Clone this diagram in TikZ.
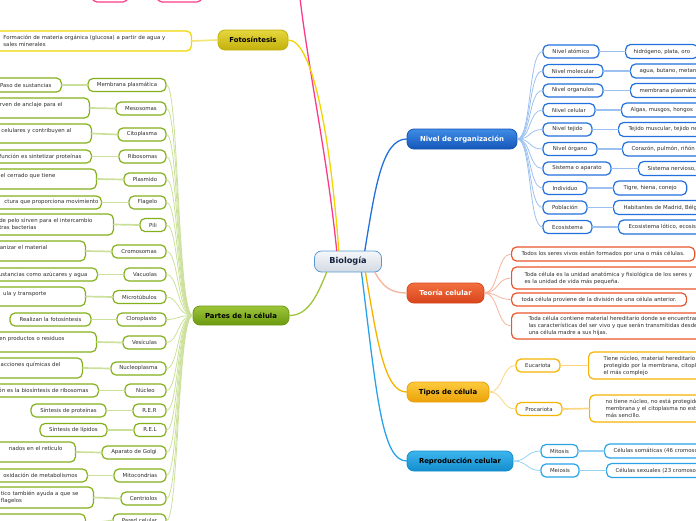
\documentclass[tikz,border=0pt]{standalone}
\usepackage{fontspec}
\setmainfont{DejaVu Sans}
\usepackage{tikz}
\definecolor{txtgray}{HTML}{2E2E2E}
\definecolor{bioTop}{HTML}{F5F7FA}
\definecolor{bioBot}{HTML}{D3DAE3}
\definecolor{bioLine}{HTML}{5B9BD5}
\definecolor{bioText}{HTML}{15233F}
\definecolor{bluTop}{HTML}{3F8CE6}
\definecolor{bluBot}{HTML}{1456B8}
\definecolor{bluBox}{HTML}{2170DD}
\definecolor{bluLine}{HTML}{9CC0F0}
\definecolor{grnTop}{HTML}{9DC53A}
\definecolor{grnBot}{HTML}{6B990F}
\definecolor{grnBox}{HTML}{84B01C}
\definecolor{grnLine}{HTML}{CBE09A}
\definecolor{redTop}{HTML}{F2703F}
\definecolor{redBot}{HTML}{D8441C}
\definecolor{redBox}{HTML}{E9552B}
\definecolor{redLine}{HTML}{F6B39C}
\definecolor{gldTop}{HTML}{FDCB3E}
\definecolor{gldBot}{HTML}{EAA108}
\definecolor{gldBox}{HTML}{F5B300}
\definecolor{gldLine}{HTML}{FAD681}
\definecolor{cynTop}{HTML}{3DB5EE}
\definecolor{cynBot}{HTML}{138DCD}
\definecolor{cynBox}{HTML}{28A3EA}
\definecolor{cynLine}{HTML}{97D2F3}
\definecolor{ylwTop}{HTML}{E5D73E}
\definecolor{ylwBot}{HTML}{C3B00C}
\definecolor{ylwBox}{HTML}{F0D500}
\definecolor{ylwLine}{HTML}{F2E57A}
\definecolor{pnkBox}{HTML}{FB3A8A}

\begin{document}
\begin{tikzpicture}[x=1pt,y=-1pt,cap=round,
    every node/.style={font=\fontsize{5.4}{6.9}\selectfont,text=txtgray,inner sep=0pt},
    box/.style={draw,rounded corners=5pt,line width=1.2pt,fill=white},
    mid/.style={box,minimum height=13pt},
    lleaf/.style={box,draw=grnBox,inner xsep=#1,align=right,anchor=east,text width=150pt},
    rleaf/.style={box,inner xsep=9pt,align=left,anchor=west,minimum height=14pt},
    mainnode/.style={draw,rounded corners=7pt,line width=0.8pt,minimum height=20pt,
        font=\bfseries\fontsize{6.9}{8}\selectfont},
    branch/.style={line width=1.3pt},
    fan/.style={line width=0.8pt},
    link/.style={line width=1.7pt}]
    \useasboundingbox (0,0) rectangle (696,520);
%   main nodes
    \node[mainnode,draw=bioLine,top color=bioTop,bottom color=bioBot,text=bioText,
        minimum width=67pt,minimum height=21pt,font=\bfseries\fontsize{8.2}{9}\selectfont] (bio) at (348,261.5) {Biología};
    \node[mainnode,draw=ylwBot,top color=ylwTop,bottom color=ylwBot,text=black,minimum width=70pt] (foto) at (253,40) {Fotosíntesis};
    \node[mainnode,draw=grnBot,top color=grnTop,bottom color=grnBot,text=black,minimum width=96pt,minimum height=19pt] (partes) at (241,315.5) {Partes de la célula};
    \node[mainnode,draw=bluBot,top color=bluTop,bottom color=bluBot,text=white,minimum width=110pt] (nivel) at (462,139) {Nivel de organización};
    \node[mainnode,draw=redBot,top color=redTop,bottom color=redBot,text=white,minimum width=77pt] (teoria) at (445.5,293) {Teoría celular};
    \node[mainnode,draw=gldBot,top color=gldTop,bottom color=gldBot,text=black,minimum width=82pt] (tipos) at (448,392) {Tipos de célula};
    \node[mainnode,draw=cynBot,top color=cynTop,bottom color=cynBot,text=black,minimum width=106pt] (repro) at (460,461) {Reproducción celular};
    \coordinate (pinkroot) at (298,-20);
%   branches from the centre
    \draw[branch,draw=pnkBox] (bio.136) .. controls +(-10,-100) and +(8,80) .. (pinkroot);
    \draw[branch,draw=ylwBox] (bio.130) .. controls +(-10,-130) and +(22,0) .. (foto.east);
    \draw[branch,draw=bluBox] (bio.33) .. controls +(10,-60) and +(-25,0) .. (nivel.west);
    \draw[branch,draw=grnTop] (bio.207) .. controls +(-10,25) and +(18,0) .. (partes.east);
    \draw[branch,draw=redLine] (bio.338) .. controls +(8,15) and +(-15,0) .. (teoria.west);
    \draw[branch,draw=gldBox] (bio.328) .. controls +(12,70) and +(-22,0) .. (tipos.west);
    \draw[branch,draw=cynBox] (bio.321) .. controls +(15,120) and +(-25,0) .. (repro.west);
%   cut off at the top
    \node[mid,draw=pnkBox,minimum width=36pt,minimum height=14pt] (pinkA) at (110,-5) {};
    \node[mid,draw=pnkBox,minimum width=45pt,minimum height=14pt] (pinkB) at (179.5,-5) {};
%   Fotosintesis
    \node[box,draw=ylwBox,inner xsep=8pt,align=left,anchor=east,text width=180pt,minimum height=20pt] (fotoT) at (192,41)
        {Formación de materia orgánica (glucosa) a partir de agua y\\ sales minerales};
    \draw[link,draw=ylwLine] (fotoT.east) -- (foto.west);
%   Nivel de organizacion
    \node[mid,draw=bluBox,minimum width=56pt] (atom) at (571,51.5) {Nivel atómico};
    \node[mid,draw=bluBox,minimum width=60pt] (molec) at (573,71) {Nivel molecular};
    \node[mid,draw=bluBox,minimum width=60pt] (organ) at (573,90.5) {Nivel organulos};
    \node[mid,draw=bluBox,minimum width=52pt] (celu) at (569,110) {Nivel celular};
    \node[mid,draw=bluBox,minimum width=49pt] (tejido) at (567.5,129.5) {Nivel tejido};
    \node[mid,draw=bluBox,minimum width=54pt] (organo) at (570,149) {Nivel órgano};
    \node[mid,draw=bluBox,minimum width=68pt] (sistema) at (577,168.5) {Sistema o aparato};
    \node[mid,draw=bluBox,minimum width=44pt] (indiv) at (565,188) {Individuo};
    \node[mid,draw=bluBox,minimum width=44pt] (pobla) at (565,207.5) {Población};
    \node[mid,draw=bluBox,minimum width=49pt] (ecosis) at (567.5,227) {Ecosistema};
    \node[rleaf,draw=bluBox,inner xsep=8pt] (atomT) at (625,51.5) {hidrógeno, plata, oro};
    \node[rleaf,draw=bluBox] (molecT) at (630,71) {agua, butano, metano};
    \node[rleaf,draw=bluBox] (organT) at (630,90.5) {membrana plasmática};
    \node[rleaf,draw=bluBox] (celuT) at (621,110) {Algas, musgos, hongos};
    \node[rleaf,draw=bluBox,inner xsep=10pt] (tejidoT) at (618,129.5) {Tejido muscular, tejido nervioso};
    \node[rleaf,draw=bluBox] (organoT) at (622,149) {Corazón, pulmón, riñón};
    \node[rleaf,draw=bluBox] (sistemaT) at (638,168.5) {Sistema nervioso,};
    \node[rleaf,draw=bluBox,inner xsep=10pt] (indivT) at (613,188) {Tigre, hiena, conejo};
    \node[rleaf,draw=bluBox,inner xsep=10pt] (poblaT) at (613,207.5) {Habitantes de Madrid, Bélgica};
    \node[rleaf,draw=bluBox,inner xsep=10pt] (ecosisT) at (618,227) {Ecosistema lótico, ecosistema};
    \draw[fan,draw=bluLine] (nivel.east) .. controls +(14,0) and +(-14,0) .. (atom.west);
    \draw[fan,draw=bluLine] (nivel.east) .. controls +(14,0) and +(-14,0) .. (molec.west);
    \draw[fan,draw=bluLine] (nivel.east) .. controls +(14,0) and +(-14,0) .. (organ.west);
    \draw[fan,draw=bluLine] (nivel.east) .. controls +(14,0) and +(-14,0) .. (celu.west);
    \draw[fan,draw=bluLine] (nivel.east) .. controls +(14,0) and +(-14,0) .. (tejido.west);
    \draw[fan,draw=bluLine] (nivel.east) .. controls +(14,0) and +(-14,0) .. (organo.west);
    \draw[fan,draw=bluLine] (nivel.east) .. controls +(14,0) and +(-14,0) .. (sistema.west);
    \draw[fan,draw=bluLine] (nivel.east) .. controls +(14,0) and +(-14,0) .. (indiv.west);
    \draw[fan,draw=bluLine] (nivel.east) .. controls +(14,0) and +(-14,0) .. (pobla.west);
    \draw[fan,draw=bluLine] (nivel.east) .. controls +(14,0) and +(-14,0) .. (ecosis.west);
    \draw[link,draw=bluLine] (atom.east) -- (atomT.west);
    \draw[link,draw=bluLine] (molec.east) -- (molecT.west);
    \draw[link,draw=bluLine] (organ.east) -- (organT.west);
    \draw[link,draw=bluLine] (celu.east) -- (celuT.west);
    \draw[link,draw=bluLine] (tejido.east) -- (tejidoT.west);
    \draw[link,draw=bluLine] (organo.east) -- (organoT.west);
    \draw[link,draw=bluLine] (sistema.east) -- (sistemaT.west);
    \draw[link,draw=bluLine] (indiv.east) -- (indivT.west);
    \draw[link,draw=bluLine] (pobla.east) -- (poblaT.west);
    \draw[link,draw=bluLine] (ecosis.east) -- (ecosisT.west);
%   Teoria celular
    \node[rleaf,draw=redBox,inner xsep=10pt] (todos) at (511,254) {Todos los seres vivos están formados por una o más células.};
    \node[rleaf,draw=redBox,inner xsep=13pt,minimum height=22pt] (unidad) at (511,278)
        {Toda célula es la unidad anatómica y fisiológica de los seres y\\ es la unidad de vida más pequeña.};
    \node[rleaf,draw=redBox,inner xsep=10pt,minimum height=13pt] (division) at (511,299.5) {toda célula proviene de la división de una célula anterior.};
    \node[rleaf,draw=redBox,inner xsep=17pt,minimum height=26pt] (heredit) at (511,326)
        {Toda célula contiene material hereditario donde se encuentran\\ las características del ser vivo y que serán transmitidas desde\\ una célula madre a sus hijas.};
    \draw[fan,draw=redLine] (teoria.east) .. controls +(14,0) and +(-14,0) .. (todos.west);
    \draw[fan,draw=redLine] (teoria.east) .. controls +(14,0) and +(-14,0) .. (unidad.west);
    \draw[fan,draw=redLine] (teoria.east) .. controls +(14,0) and +(-14,0) .. (division.west);
    \draw[fan,draw=redLine] (teoria.east) .. controls +(14,0) and +(-14,0) .. (heredit.west);
%   Tipos de celula
    \node[mid,draw=gldBox,minimum width=44pt] (euca) at (538,365.5) {Eucariota};
    \node[mid,draw=gldBox,minimum width=46pt] (proca) at (539,409) {Procariota};
    \node[rleaf,draw=gldBox,inner xsep=15pt,minimum height=27pt] (eucaT) at (588,365.5)
        {Tiene núcleo, material hereditario\\ protegido por la membrana, citoplasma\\ el más complejo};
    \node[rleaf,draw=gldBox,inner xsep=16pt,minimum height=27pt] (procaT) at (589,408.5)
        {no tiene núcleo, no está protegido\\ membrana y el citoplasma no está\\ más sencillo.};
    \draw[fan,draw=gldLine] (tipos.east) .. controls +(14,0) and +(-14,0) .. (euca.west);
    \draw[fan,draw=gldLine] (tipos.east) .. controls +(14,0) and +(-14,0) .. (proca.west);
    \draw[link,draw=gldLine] (euca.east) -- (eucaT.west);
    \draw[link,draw=gldLine] (proca.east) -- (procaT.west);
%   Reproduccion celular
    \node[mid,draw=cynBox,minimum width=37pt] (mitosis) at (559.5,451) {Mitosis};
    \node[mid,draw=cynBox,minimum width=38pt] (meiosis) at (560,470.5) {Meiosis};
    \node[rleaf,draw=cynBox] (mitosisT) at (604,451) {Células somáticas (46 cromosomas)};
    \node[rleaf,draw=cynBox] (meiosisT) at (606,470.5) {Células sexuales (23 cromosomas)};
    \draw[fan,draw=cynLine] (repro.east) .. controls +(14,0) and +(-14,0) .. (mitosis.west);
    \draw[fan,draw=cynLine] (repro.east) .. controls +(14,0) and +(-14,0) .. (meiosis.west);
    \draw[link,draw=cynLine] (mitosis.east) -- (mitosisT.west);
    \draw[link,draw=cynLine] (meiosis.east) -- (meiosisT.west);
%   Partes de la celula
    \node[mid,draw=grnBox,minimum width=78pt] (memb) at (127,85) {Membrana plasmática};
    \node[mid,draw=grnBox,minimum width=50pt] (meso) at (141,108.5) {Mesosomas};
    \node[mid,draw=grnBox,minimum width=48pt] (cito) at (142,134.5) {Citoplasma};
    \node[mid,draw=grnBox,minimum width=47pt] (ribo) at (142.5,156.5) {Ribosomas};
    \node[mid,draw=grnBox,minimum width=42pt] (plas) at (145,179.5) {Plasmido};
    \node[mid,draw=grnBox,minimum width=37pt] (flag) at (147.5,202.5) {Flagelo};
    \node[mid,draw=grnBox,minimum width=26pt] (pili) at (153,225) {Pili};
    \node[mid,draw=grnBox,minimum width=54pt] (crom) at (139,251.5) {Cromosomas};
    \node[mid,draw=grnBox,minimum width=42pt] (vacu) at (145,274.5) {Vacuolas};
    \node[mid,draw=grnBox,minimum width=53pt] (micro) at (139.5,297) {Microtúbulos};
    \node[mid,draw=grnBox,minimum width=49pt] (cloro) at (141.5,319.5) {Cloroplasto};
    \node[mid,draw=grnBox,minimum width=43pt] (vesi) at (144.5,342.5) {Vesículas};
    \node[mid,draw=grnBox,minimum width=55pt] (nucleop) at (138.5,368.5) {Nucleoplasma};
    \node[mid,draw=grnBox,minimum width=41pt] (nucleo) at (145.5,390.5) {Núcleo};
    \node[mid,draw=grnBox,minimum width=33pt] (rer) at (149.5,410.5) {R.E.R};
    \node[mid,draw=grnBox,minimum width=32pt] (rel) at (150,430) {R.E.L};
    \node[mid,draw=grnBox,minimum width=64pt] (golgi) at (134,452.5) {Aparato de Golgi};
    \node[mid,draw=grnBox,minimum width=52pt] (mito) at (140,475.5) {Mitocondrias};
    \node[mid,draw=grnBox,minimum width=45pt] (centri) at (143.5,498.5) {Centriolos};
    \node[mid,draw=grnBox,minimum width=53pt] (pared) at (139.5,520.5) {Pared celular};
    \node[lleaf=10pt,minimum height=14pt] (membT) at (62,85) {Paso de sustancias};
    \node[lleaf=27pt,minimum height=20pt] (mesoT) at (90,108) {irven de anclaje para el\\ \mbox{}};
    \node[lleaf=20pt,minimum height=19pt] (citoT) at (92,133.5) {celulares y contribuyen al\\ \mbox{}};
    \node[lleaf=10pt,minimum height=13pt] (riboT) at (92,156.5) {función es sintetizar proteínas};
    \node[lleaf=41pt,minimum height=20pt] (plasT) at (97,179) {el cerrado que tiene\\ \mbox{}};
    \node[lleaf=3pt,minimum height=13pt] (flagT) at (102,202.5) {ctura que proporciona movimiento};
    \node[lleaf=21pt,minimum height=21pt] (piliT) at (114,224.5)
        {\begin{tabular}{@{}l@{}}de pelo sirven para el intercambio\\ tras bacterias\end{tabular}};
    \node[lleaf=38pt,minimum height=20pt] (cromT) at (86,251) {anizar el material\\ \mbox{}};
    \node[lleaf=10pt,minimum height=13pt] (vacuT) at (98,274.5) {ustancias como azúcares y agua};
    \node[lleaf=39pt,minimum height=19pt] (microT) at (86,296.5) {ula y transporte\\ \mbox{}};
    \node[mid,draw=grnBox,minimum width=81pt] (cloroT) at (50.5,319.5) {Realizan la fotosíntesis};
    \node[lleaf=32pt,minimum height=20pt] (vesiT) at (97,342) {en productos o residuos\\ \mbox{}};
    \node[lleaf=22pt,minimum height=20pt] (nucleopT) at (83,368) {acciones químicas del\\ \mbox{}};
    \node[lleaf=10pt,minimum height=13pt] (nucleoT) at (99,390.5) {ón es la biosíntesis de ribosomas};
    \node[mid,draw=grnBox,minimum width=75pt] (rerT) at (68.5,410.5) {Síntesis de proteínas};
    \node[mid,draw=grnBox,minimum width=67pt] (relT) at (73.5,430) {Síntesis de lípidos};
    \node[lleaf=13pt,minimum height=20pt] (golgiT) at (76,452) {nados en el retículo\\ \mbox{}};
    \node[lleaf=10pt,minimum height=13pt] (mitoT) at (88,475.5) {oxidación de metabolismos};
    \node[lleaf=15pt,minimum height=21pt] (centriT) at (94,497.5)
        {\begin{tabular}{@{}l@{}}tico también ayuda a que se\\ flagelos\end{tabular}};
    \node[lleaf=10pt,minimum height=20pt] (paredT) at (86,524) {};
    \draw[fan,draw=grnLine] (partes.west) .. controls +(-15,0) and +(12,0) .. (memb.east);
    \draw[fan,draw=grnLine] (partes.west) .. controls +(-15,0) and +(12,0) .. (meso.east);
    \draw[fan,draw=grnLine] (partes.west) .. controls +(-15,0) and +(12,0) .. (cito.east);
    \draw[fan,draw=grnLine] (partes.west) .. controls +(-15,0) and +(12,0) .. (ribo.east);
    \draw[fan,draw=grnLine] (partes.west) .. controls +(-15,0) and +(12,0) .. (plas.east);
    \draw[fan,draw=grnLine] (partes.west) .. controls +(-15,0) and +(12,0) .. (flag.east);
    \draw[fan,draw=grnLine] (partes.west) .. controls +(-15,0) and +(12,0) .. (pili.east);
    \draw[fan,draw=grnLine] (partes.west) .. controls +(-15,0) and +(12,0) .. (crom.east);
    \draw[fan,draw=grnLine] (partes.west) .. controls +(-15,0) and +(12,0) .. (vacu.east);
    \draw[fan,draw=grnLine] (partes.west) .. controls +(-15,0) and +(12,0) .. (micro.east);
    \draw[fan,draw=grnLine] (partes.west) .. controls +(-15,0) and +(12,0) .. (cloro.east);
    \draw[fan,draw=grnLine] (partes.west) .. controls +(-15,0) and +(12,0) .. (vesi.east);
    \draw[fan,draw=grnLine] (partes.west) .. controls +(-15,0) and +(12,0) .. (nucleop.east);
    \draw[fan,draw=grnLine] (partes.west) .. controls +(-15,0) and +(12,0) .. (nucleo.east);
    \draw[fan,draw=grnLine] (partes.west) .. controls +(-15,0) and +(12,0) .. (rer.east);
    \draw[fan,draw=grnLine] (partes.west) .. controls +(-15,0) and +(12,0) .. (rel.east);
    \draw[fan,draw=grnLine] (partes.west) .. controls +(-15,0) and +(12,0) .. (golgi.east);
    \draw[fan,draw=grnLine] (partes.west) .. controls +(-15,0) and +(12,0) .. (mito.east);
    \draw[fan,draw=grnLine] (partes.west) .. controls +(-15,0) and +(12,0) .. (centri.east);
    \draw[fan,draw=grnLine] (partes.west) .. controls +(-15,0) and +(12,0) .. (pared.east);
    \draw[link,draw=grnLine] (membT.east) -- (memb.west);
    \draw[link,draw=grnLine] (mesoT.east) -- (meso.west);
    \draw[link,draw=grnLine] (citoT.east) -- (cito.west);
    \draw[link,draw=grnLine] (riboT.east) -- (ribo.west);
    \draw[link,draw=grnLine] (plasT.east) -- (plas.west);
    \draw[link,draw=grnLine] (flagT.east) -- (flag.west);
    \draw[link,draw=grnLine] (piliT.east) -- (pili.west);
    \draw[link,draw=grnLine] (cromT.east) -- (crom.west);
    \draw[link,draw=grnLine] (vacuT.east) -- (vacu.west);
    \draw[link,draw=grnLine] (microT.east) -- (micro.west);
    \draw[link,draw=grnLine] (cloroT.east) -- (cloro.west);
    \draw[link,draw=grnLine] (vesiT.east) -- (vesi.west);
    \draw[link,draw=grnLine] (nucleopT.east) -- (nucleop.west);
    \draw[link,draw=grnLine] (nucleoT.east) -- (nucleo.west);
    \draw[link,draw=grnLine] (rerT.east) -- (rer.west);
    \draw[link,draw=grnLine] (relT.east) -- (rel.west);
    \draw[link,draw=grnLine] (golgiT.east) -- (golgi.west);
    \draw[link,draw=grnLine] (mitoT.east) -- (mito.west);
    \draw[link,draw=grnLine] (centriT.east) -- (centri.west);
    \draw[link,draw=grnLine] (paredT.east) -- (pared.west);
\end{tikzpicture}
\end{document}
